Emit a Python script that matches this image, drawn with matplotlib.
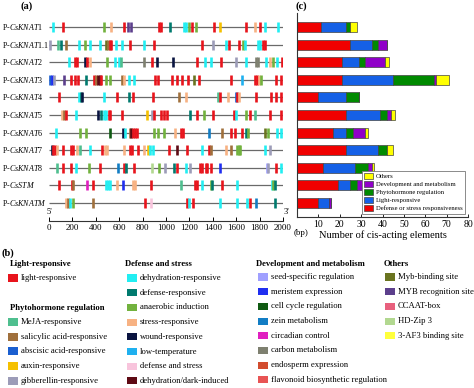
import matplotlib
matplotlib.use("Agg")
import matplotlib.pyplot as plt
from matplotlib.patches import Rectangle

plt.rcParams['font.family'] = 'Liberation Serif'
plt.rcParams['mathtext.fontset'] = 'custom'
plt.rcParams['mathtext.rm'] = 'Liberation Serif'
plt.rcParams['mathtext.it'] = 'Liberation Serif:italic'

# element colours (panel b)
col = {
    'red': '#e8141c', 'meja': '#4fbf8f', 'sal': '#a0703c', 'aba': '#1a5fd0',
    'aux': '#f5c000', 'gib': '#9c9cb8', 'dehy': '#22eef2', 'def': '#007a6e',
    'anaer': '#72b23e', 'stress': '#f7b283', 'wound': '#0a1440', 'lowt': '#1fb0ef',
    'defst': '#f8c4dc', 'dark': '#5e0a14', 'seed': '#a0a0ff', 'meri': '#1f2ef0',
    'cell': '#0f5a12', 'zein': '#127dc4', 'circ': '#e020c0', 'carbon': '#7e8070',
    'endo': '#d24c2e', 'flav': '#e85454', 'myb': '#6a7420', 'mybr': '#5c3f8c',
    'ccaat': '#e8607e', 'hdzip': '#b2d890', 'af3': '#ffff3c',
}

genes = ['CsKNAT1', 'CsKNAT1.1', 'CsKNAT2', 'CsKNAT3', 'CsKNAT4', 'CsKNAT5',
         'CsKNAT6', 'CsKNAT7', 'CsKNAT8', 'CsSTM', 'CsKNATM']

knat1_pos = [37, 123, 466, 532, 638, 672, 701, 938, 961, 1032, 1153, 1173, 1195, 1218, 1253,
             1410, 1459, 1686, 1760, 1800, 1847, 1959]
knat1_typ = ['dehy', 'red', 'anaer', 'stress', 'red', 'mybr', 'mybr', 'red', 'red', 'def', 'dehy',
             'dehy', 'anaer', 'red', 'anaer', 'red', 'aux', 'red', 'stress', 'red', 'dehy', 'dehy']
knat11_pos = [9, 80, 100, 143, 257, 309, 352, 432, 489, 500, 518, 532, 575, 623, 695, 809, 901,
              1310, 1401, 1510, 1539, 1624, 1660, 1675, 1787, 1800, 1825, 1848]
knat11_typ = ['gib', 'meja', 'def', 'sal', 'dehy', 'anaer', 'dehy', 'dehy', 'myb', 'sal', 'red',
              'red', 'dehy', 'dehy', 'red', 'dehy', 'red', 'red', 'gib', 'dehy', 'red', 'red',
              'anaer', 'dehy', 'dehy', 'dehy', 'red', 'red']
knat2_pos = [172, 223, 237, 309, 323, 352, 495, 561, 595, 615, 809, 881, 924, 1061, 1267, 1330,
             1387, 1467, 1596, 1682, 1770, 1790, 1853, 1890, 1915, 1945, 1988]
knat2_typ = ['dehy', 'red', 'red', 'wound', 'red', 'stress', 'anaer', 'dehy', 'dehy', 'meja',
             'carbon', 'red', 'wound', 'wound', 'red', 'dehy', 'dehy', 'red', 'gib', 'dehy',
             'carbon', 'carbon', 'dehy', 'stress', 'anaer', 'dehy', 'red']
knat3_pos = [9, 23, 46, 132, 189, 223, 252, 317, 386, 403, 415, 432, 446, 489, 518, 623, 644, 681,
             724, 909, 929, 1052, 1095, 1138, 1190, 1238, 1281, 1553, 1650, 1762, 1780, 1795,
             1816, 1940, 1980]
knat3_typ = ['aba', 'meri', 'gib', 'mybr', 'red', 'red', 'red', 'def', 'red', 'sal', 'dark',
             'dark', 'red', 'anaer', 'anaer', 'sal', 'stress', 'dehy', 'dehy', 'red', 'red', 'red',
             'red', 'red', 'red', 'myb', 'red', 'red', 'lowt', 'red', 'red', 'stress', 'anaer',
             'red', 'red']
knat4_pos = [86, 257, 275, 286, 466, 581, 681, 715, 889, 1115, 1173, 1447, 1465, 1530, 1596, 1610,
             1625, 1770, 1900, 1940, 1985]
knat4_typ = ['red', 'dehy', 'def', 'wound', 'dehy', 'red', 'def', 'red', 'red', 'sal', 'stress',
             'meja', 'red', 'stress', 'aba', 'red', 'stress', 'red', 'red', 'red', 'red']
knat5_pos = [114, 129, 143, 232, 423, 443, 466, 489, 509, 523, 623, 838, 881, 901, 961, 981, 1010,
             1204, 1261, 1324, 1404, 1581, 1595, 1682, 1719, 1760, 1890, 1985]
knat5_typ = ['stress', 'sal', 'red', 'dehy', 'wound', 'def', 'dehy', 'dehy', 'red', 'red', 'red',
             'aux', 'gib', 'red', 'red', 'red', 'red', 'def', 'red', 'anaer', 'red', 'red', 'dehy',
             'anaer', 'red', 'meja', 'red', 'red']
knat6_pos = [60, 266, 317, 518, 632, 646, 689, 704, 718, 738, 752, 895, 929, 981, 1075, 1124, 1147,
             1367, 1481, 1553, 1590, 1650, 1680, 1700, 1845, 1875, 1945, 1985]
knat6_typ = ['dehy', 'anaer', 'anaer', 'cell', 'wound', 'dehy', 'sal', 'dark', 'red', 'red', 'red',
             'anaer', 'anaer', 'anaer', 'stress', 'red', 'red', 'zein', 'sal', 'red', 'red', 'red',
             'def', 'anaer', 'myb', 'anaer', 'dehy', 'dehy']
knat7_pos = [23, 37, 52, 72, 123, 186, 203, 243, 266, 352, 452, 480, 495, 638, 695, 709, 758, 815,
             844, 861, 889, 1024, 1095, 1181, 1310, 1367, 1387, 1510, 1553, 1605, 1620, 1635,
             1845, 1890]
knat7_typ = ['wound', 'red', 'red', 'stress', 'red', 'red', 'red', 'stress', 'meja', 'dehy', 'red',
             'stress', 'stress', 'stress', 'red', 'red', 'red', 'stress', 'aux', 'dehy', 'dehy',
             'red', 'dark', 'red', 'dehy', 'red', 'sal', 'stress', 'sal', 'anaer', 'anaer',
             'anaer', 'dehy', 'gib']
knat8_pos = [66, 123, 189, 232, 338, 438, 586, 638, 658, 729, 881, 938, 990, 1067, 1095, 1167,
             1201, 1290, 1310, 1338, 1353, 1381, 1459, 1860, 1875, 1939, 1985]
knat8_typ = ['meja', 'red', 'red', 'dehy', 'anaer', 'red', 'zein', 'red', 'def', 'red', 'hdzip',
             'anaer', 'gib', 'def', 'red', 'dehy', 'gib', 'red', 'red', 'red', 'red', 'red', 'meri',
             'seed', 'gib', 'red', 'dehy']
stm_pos = [86, 195, 205, 323, 380, 490, 503, 520, 581, 629, 718, 732, 875, 1124, 1244, 1262, 1310,
           1381, 1395, 1476, 1610, 1905, 1918, 1930]
stm_typ = ['red', 'red', 'sal', 'circ', 'red', 'dehy', 'dehy', 'dehy', 'stress', 'meri', 'stress',
           'stress', 'red', 'meja', 'red', 'red', 'dehy', 'anaer', 'def', 'red', 'dehy', 'dehy',
           'anaer', 'def']
knatm_pos = [146, 160, 176, 209, 380, 818, 875, 1181, 1200, 1233, 1461, 1605, 1690, 1719, 1767,
             1930]
knatm_typ = ['stress', 'sal', 'dehy', 'anaer', 'sal', 'red', 'defst', 'red', 'dehy', 'red', 'dehy',
             'dehy', 'dehy', 'red', 'zein', 'def']

rows_pos = [knat1_pos, knat11_pos, knat2_pos, knat3_pos, knat4_pos, knat5_pos, knat6_pos,
            knat7_pos, knat8_pos, stm_pos, knatm_pos]
rows_typ = [knat1_typ, knat11_typ, knat2_typ, knat3_typ, knat4_typ, knat5_typ, knat6_typ,
            knat7_typ, knat8_typ, stm_typ, knatm_typ]

# panel c: counts per category
defense = [11, 25, 21, 21, 10, 23, 17, 23, 12, 19, 10]
light = [12, 10, 8, 24, 13, 16, 6, 15, 15, 6, 5]
phyto = [2, 3, 3, 19, 6, 3, 3, 4, 6, 3, 0]
devmet = [0, 4, 9, 1, 0, 2, 6, 0, 2, 3, 1]
others = [3, 0, 2, 6, 0, 2, 1, 3, 1, 0, 0]

W, H = 474, 388
fig = plt.figure(figsize=(W / 100, H / 100), dpi=100)


def fx(px):
    return px / W


def fy(py):
    return 1 - py / H


# ---- panel (a)
top, bot = 13, 221
ax = fig.add_axes([fx(49), fy(bot), fx(283) - fx(49), (bot - top) / H])
for i, (p, t) in enumerate(zip(rows_pos, rows_typ)):
    ax.hlines(i, 0, 2000, color='#6a6a6a', lw=0.9, zorder=1)
    ax.vlines(p, i - 0.28, i + 0.28, colors=[col[k] for k in t], lw=1.9, zorder=2)
ax.set_xlim(0, 2000)
ax.set_ylim((bot - 27) / 17.6, -(27 - top) / 17.6)
for s in ['left', 'top', 'right']:
    ax.spines[s].set_visible(False)
ax.spines['bottom'].set_color('#333333')
ax.spines['bottom'].set_linewidth(0.8)
ax.set_yticks([])
ax.set_xticks(range(0, 2001, 200))
ax.tick_params(axis='x', direction='in', length=3, width=0.7, labelsize=6.5, pad=2)
for i, g in enumerate(genes):
    fig.text(fx(2), fy(27 + 17.6 * i), 'P-$\\mathit{' + g + '}$', fontsize=5.8,
             ha='left', va='center')
fig.text(fx(49), fy(216), "5'", fontsize=6, ha='center', va='bottom')
fig.text(fx(286), fy(216), "3'", fontsize=6, ha='center', va='bottom')
fig.text(fx(294), fy(233), "(bp)", fontsize=6.5, ha='left', va='center')
fig.text(fx(27), fy(6), "(a)", fontsize=7.5, weight='bold', ha='center', va='center')

# ---- panel (c)
bot_c = 217
axc = fig.add_axes([fx(297), fy(bot_c), fx(468) - fx(297), (bot_c - top) / H])
yy = list(range(len(genes)))
left = [0] * len(genes)
series = [(defense, '#f00000', 'Defense or stress responsiveness'),
          (light, '#1560e6', 'Light-responsive'),
          (phyto, '#008a00', 'Phytohormone regulation'),
          (devmet, '#9000c8', 'Development and metabolism'),
          (others, '#ffff00', 'Others')]
handles = []
for vals, c, lab in series:
    b = axc.barh(yy, vals, left=left, height=0.57, color=c, edgecolor='#444444', lw=0.5,
                 label=lab)
    handles.append(b)
    left = [a + v for a, v in zip(left, vals)]
axc.set_xlim(0, 80)
axc.set_ylim((bot_c - 27) / 17.6, -(27 - top) / 17.6)
axc.set_yticks([])
axc.set_xticks(range(10, 81, 10))
axc.tick_params(axis='x', direction='in', length=2, width=0.6, labelsize=7, pad=2)
axc.spines['top'].set_visible(False)
axc.spines['right'].set_visible(False)
for s in ['left', 'bottom']:
    axc.spines[s].set_linewidth(0.8)
    axc.spines[s].set_color('#333333')
axc.set_xlabel('Number of cis-acting elements', fontsize=7.5, labelpad=1)
leg = axc.legend(handles[::-1], [s[2] for s in series][::-1], loc='lower right',
                 bbox_to_anchor=(1.0, 0.0), fontsize=4.8, handlelength=1.3, handleheight=0.9,
                 labelspacing=0.3, borderpad=0.35, handletextpad=0.4, fancybox=False,
                 framealpha=1, edgecolor='#777777')
leg.get_frame().set_linewidth(0.6)
fig.text(fx(301), fy(6), "(c)", fontsize=7.5, weight='bold', ha='center', va='center')

# ---- panel (b): element legend
lg = fig.add_axes([0, 0, 1, 1])
lg.set_xlim(0, W)
lg.set_ylim(H, 0)
lg.axis('off')
lg.text(2, 253, '(b)', fontsize=7.5, weight='bold', va='center')

headers = [(10, 264, 'Light-responsive'), (125, 264, 'Defense and stress'),
           (256, 264, 'Development and metabolism'), (384, 264, 'Others'),
           (10, 308, 'Phytohormone regulation')]
for x, y, t in headers:
    lg.text(x, y, t, fontsize=6.2, weight='bold', va='center')

col1 = [('red', 'light-responsive', 278), ('meja', 'MeJA-responsive', 322),
        ('sal', 'salicylic acid-responsive', 337), ('aba', 'abscisic acid-responsive', 351),
        ('aux', 'auxin-responsive', 366), ('gib', 'gibberellin-responsive', 381)]
names2 = [('dehy', 'dehydration-responsive'), ('def', 'defense-responsive'),
          ('anaer', 'anaerobic induction'), ('stress', 'stress-responsive'),
          ('wound', 'wound-responsive'), ('lowt', 'low-temperature'),
          ('defst', 'defense and stress'), ('dark', 'dehydration/dark-induced')]
names3 = [('seed', 'seed-specific regulation'), ('meri', 'meristem expression'),
          ('cell', 'cell cycle regulation'), ('zein', 'zein metabolism'),
          ('circ', 'circadian control'), ('carbon', 'carbon metabolism'),
          ('endo', 'endosperm expression'), ('flav', 'flavonoid biosynthetic regulation')]
names4 = [('myb', 'Myb-binding site'), ('mybr', 'MYB recognition site'), ('ccaat', 'CCAAT-box'),
          ('hdzip', 'HD-Zip 3'), ('af3', '3-AF3 binding site')]


def item(x, y, key, label):
    lg.add_patch(Rectangle((x, y - 3.6), 10, 7.2, color=col[key], lw=0))
    lg.text(x + 13, y, label, fontsize=6.2, va='center')


for k, t, y in col1:
    item(8, y, k, t)
for j, (k, t) in enumerate(names2):
    item(127, 278 + 14.7 * j, k, t)
for j, (k, t) in enumerate(names3):
    item(258, 277 + 14.7 * j, k, t)
for j, (k, t) in enumerate(names4):
    item(385, 277 + 14.7 * j, k, t)

fig.savefig('out.png', dpi=100)
